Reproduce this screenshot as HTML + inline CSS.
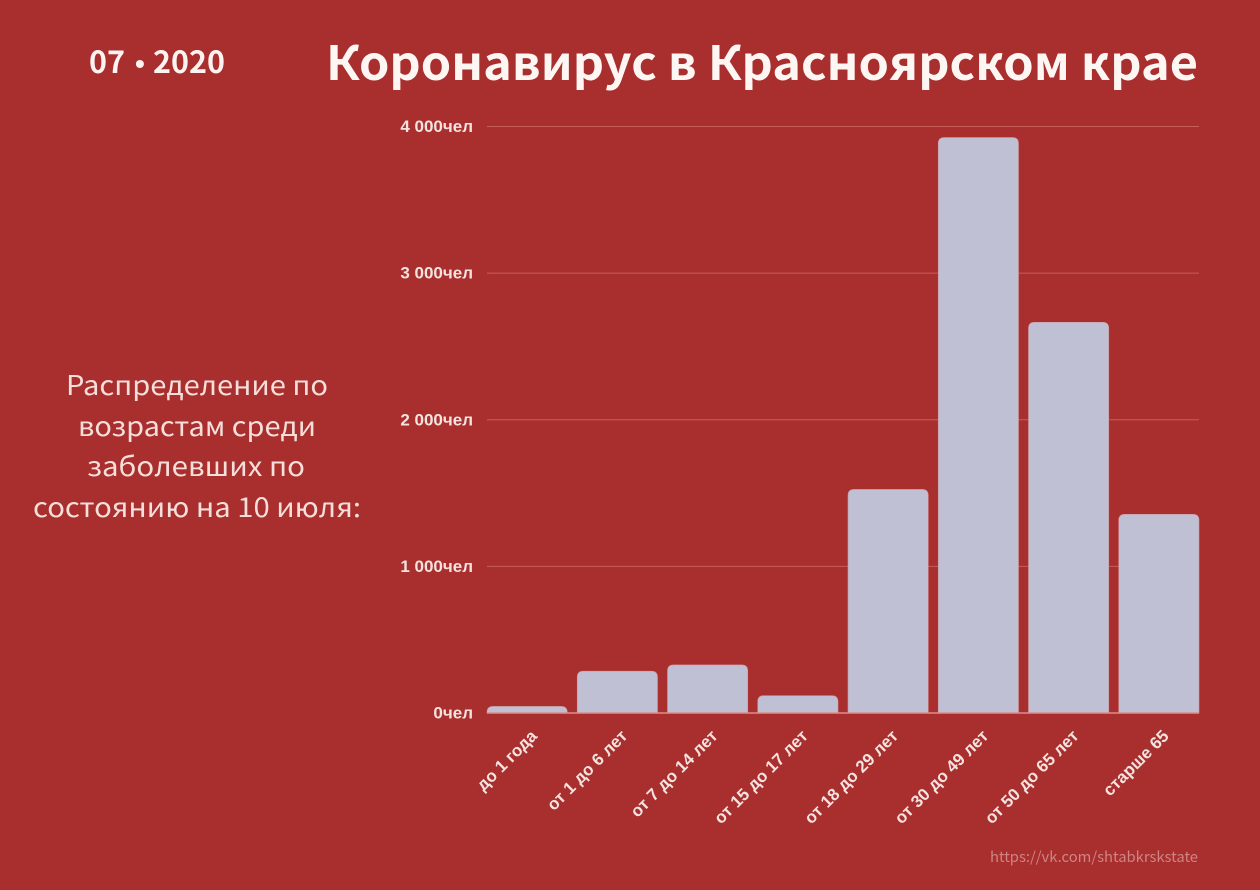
<!DOCTYPE html>
<html lang="ru">
<head>
<meta charset="utf-8">
<title>Коронавирус в Красноярском крае</title>
<style>
html,body{margin:0;padding:0;width:1260px;height:890px;overflow:hidden;background:#a92e2e}
svg{display:block}
text{font-family:"Liberation Sans","Noto Sans CJK SC",sans-serif}
.open{font-family:"Noto Sans CJK SC","Liberation Sans",sans-serif}
</style>
</head>
<body>
<svg id="chart" width="1260" height="890" viewBox="0 0 1260 890" xmlns="http://www.w3.org/2000/svg">
  <rect width="1260" height="890" fill="#a92e2e"/>
  <text class="open" y="73" font-size="30.5" font-weight="700" fill="#fdf3f0"><tspan x="89">07</tspan><tspan x="135" y="73" font-family="Liberation Sans" font-size="28">•</tspan><tspan x="153" y="73">2020</tspan></text>
  <text class="open" x="326" y="80" font-size="47" font-weight="700" fill="#fdf6f3" textLength="872" lengthAdjust="spacingAndGlyphs">Коронавирус в Красноярском крае</text>
  <g font-size="27" fill="#f6dfda" text-anchor="middle" class="open">
    <text class="open" x="197" y="395" textLength="262" lengthAdjust="spacingAndGlyphs">Распределение по</text>
    <text class="open" x="197" y="436" textLength="238" lengthAdjust="spacingAndGlyphs">возрастам среди</text>
    <text class="open" x="196" y="476" textLength="218" lengthAdjust="spacingAndGlyphs">заболевших по</text>
    <text class="open" x="197" y="517" textLength="328" lengthAdjust="spacingAndGlyphs">состоянию на 10 июля:</text>
  </g>
  <g id="grid"></g>
  <g id="yticks"></g>
  <g id="bars"></g>
  <line x1="487" x2="1199" y1="713" y2="713" stroke="#dc8f8c" stroke-width="1.5"/>
  <g id="xticks"></g>
  <text class="open" x="1198" y="862" text-anchor="end" font-size="14.5" fill="#cf8583" textLength="208" lengthAdjust="spacingAndGlyphs">https://vk.com/shtabkrskstate</text>
</svg>
<script>
const categories = ['до 1 года', 'от 1 до 6 лет', 'от 7 до 14 лет', 'от 15 до 17 лет', 'от 18 до 29 лет', 'от 30 до 49 лет', 'от 50 до 65 лет', 'старше 65'];
const cases = [45, 285, 328, 118, 1525, 3925, 2665, 1355];
const tickValues = [0, 1000, 2000, 3000, 4000];
const tickLabels = ['0чел', '1 000чел', '2 000чел', '3 000чел', '4 000чел'];

const NS = 'http://www.w3.org/2000/svg';
const plot = { left: 487, right: 1199, top: 126.5, bottom: 713, max: 4000 };
const y = v => plot.bottom - (v / plot.max) * (plot.bottom - plot.top);
const step = (plot.right - plot.left + 10) / categories.length;
const barWidth = step - 10;
const x = i => plot.left + i * step;

const gridGroup = document.getElementById('grid');
const yGroup = document.getElementById('yticks');
tickValues.forEach((v, i) => {
  if (v !== 0) {
    const line = document.createElementNS(NS, 'line');
    
    
    line.setAttribute('x1', plot.left);
    line.setAttribute('x2', plot.right);
    line.setAttribute('y1', y(v));
    line.setAttribute('y2', y(v));
    line.setAttribute('stroke', '#c45f5c');
    line.setAttribute('stroke-width', '1');
    gridGroup.appendChild(line);
  }
  const label = document.createElementNS(NS, 'text');
  
  
  label.setAttribute('x', 473);
  label.setAttribute('y', y(v) + 5.5);
  label.setAttribute('text-anchor', 'end');
  label.setAttribute('font-size', '17');
  label.setAttribute('font-weight', '700');
  label.setAttribute('fill', '#f4e3df');
  label.textContent = tickLabels[i];
  yGroup.appendChild(label);
});

const barGroup = document.getElementById('bars');
const xGroup = document.getElementById('xticks');
categories.forEach((c, i) => {
  const bx = x(i), top = y(cases[i]), r = Math.min(6, plot.bottom - top);
  const bar = document.createElementNS(NS, 'path');
  
  
  bar.setAttribute('d', `M${bx} ${plot.bottom}V${top + r}Q${bx} ${top} ${bx + r} ${top}H${bx + barWidth - r}Q${bx + barWidth} ${top} ${bx + barWidth} ${top + r}V${plot.bottom}Z`);
  bar.setAttribute('fill', '#bfc0d3');
  bar.setAttribute('stroke', '#d0999f');
  bar.setAttribute('stroke-width', '0.6');
  barGroup.appendChild(bar);

  const tx = bx + barWidth / 2 + 11, ty = 737;
  const label = document.createElementNS(NS, 'text');
  
  
  label.setAttribute('transform', `translate(${tx} ${ty}) rotate(-45)`);
  label.setAttribute('text-anchor', 'end');
  label.setAttribute('font-size', '17');
  label.setAttribute('font-weight', '700');
  label.setAttribute('fill', '#f4e3df');
  label.textContent = c;
  xGroup.appendChild(label);
});
</script>
</body>
</html>
